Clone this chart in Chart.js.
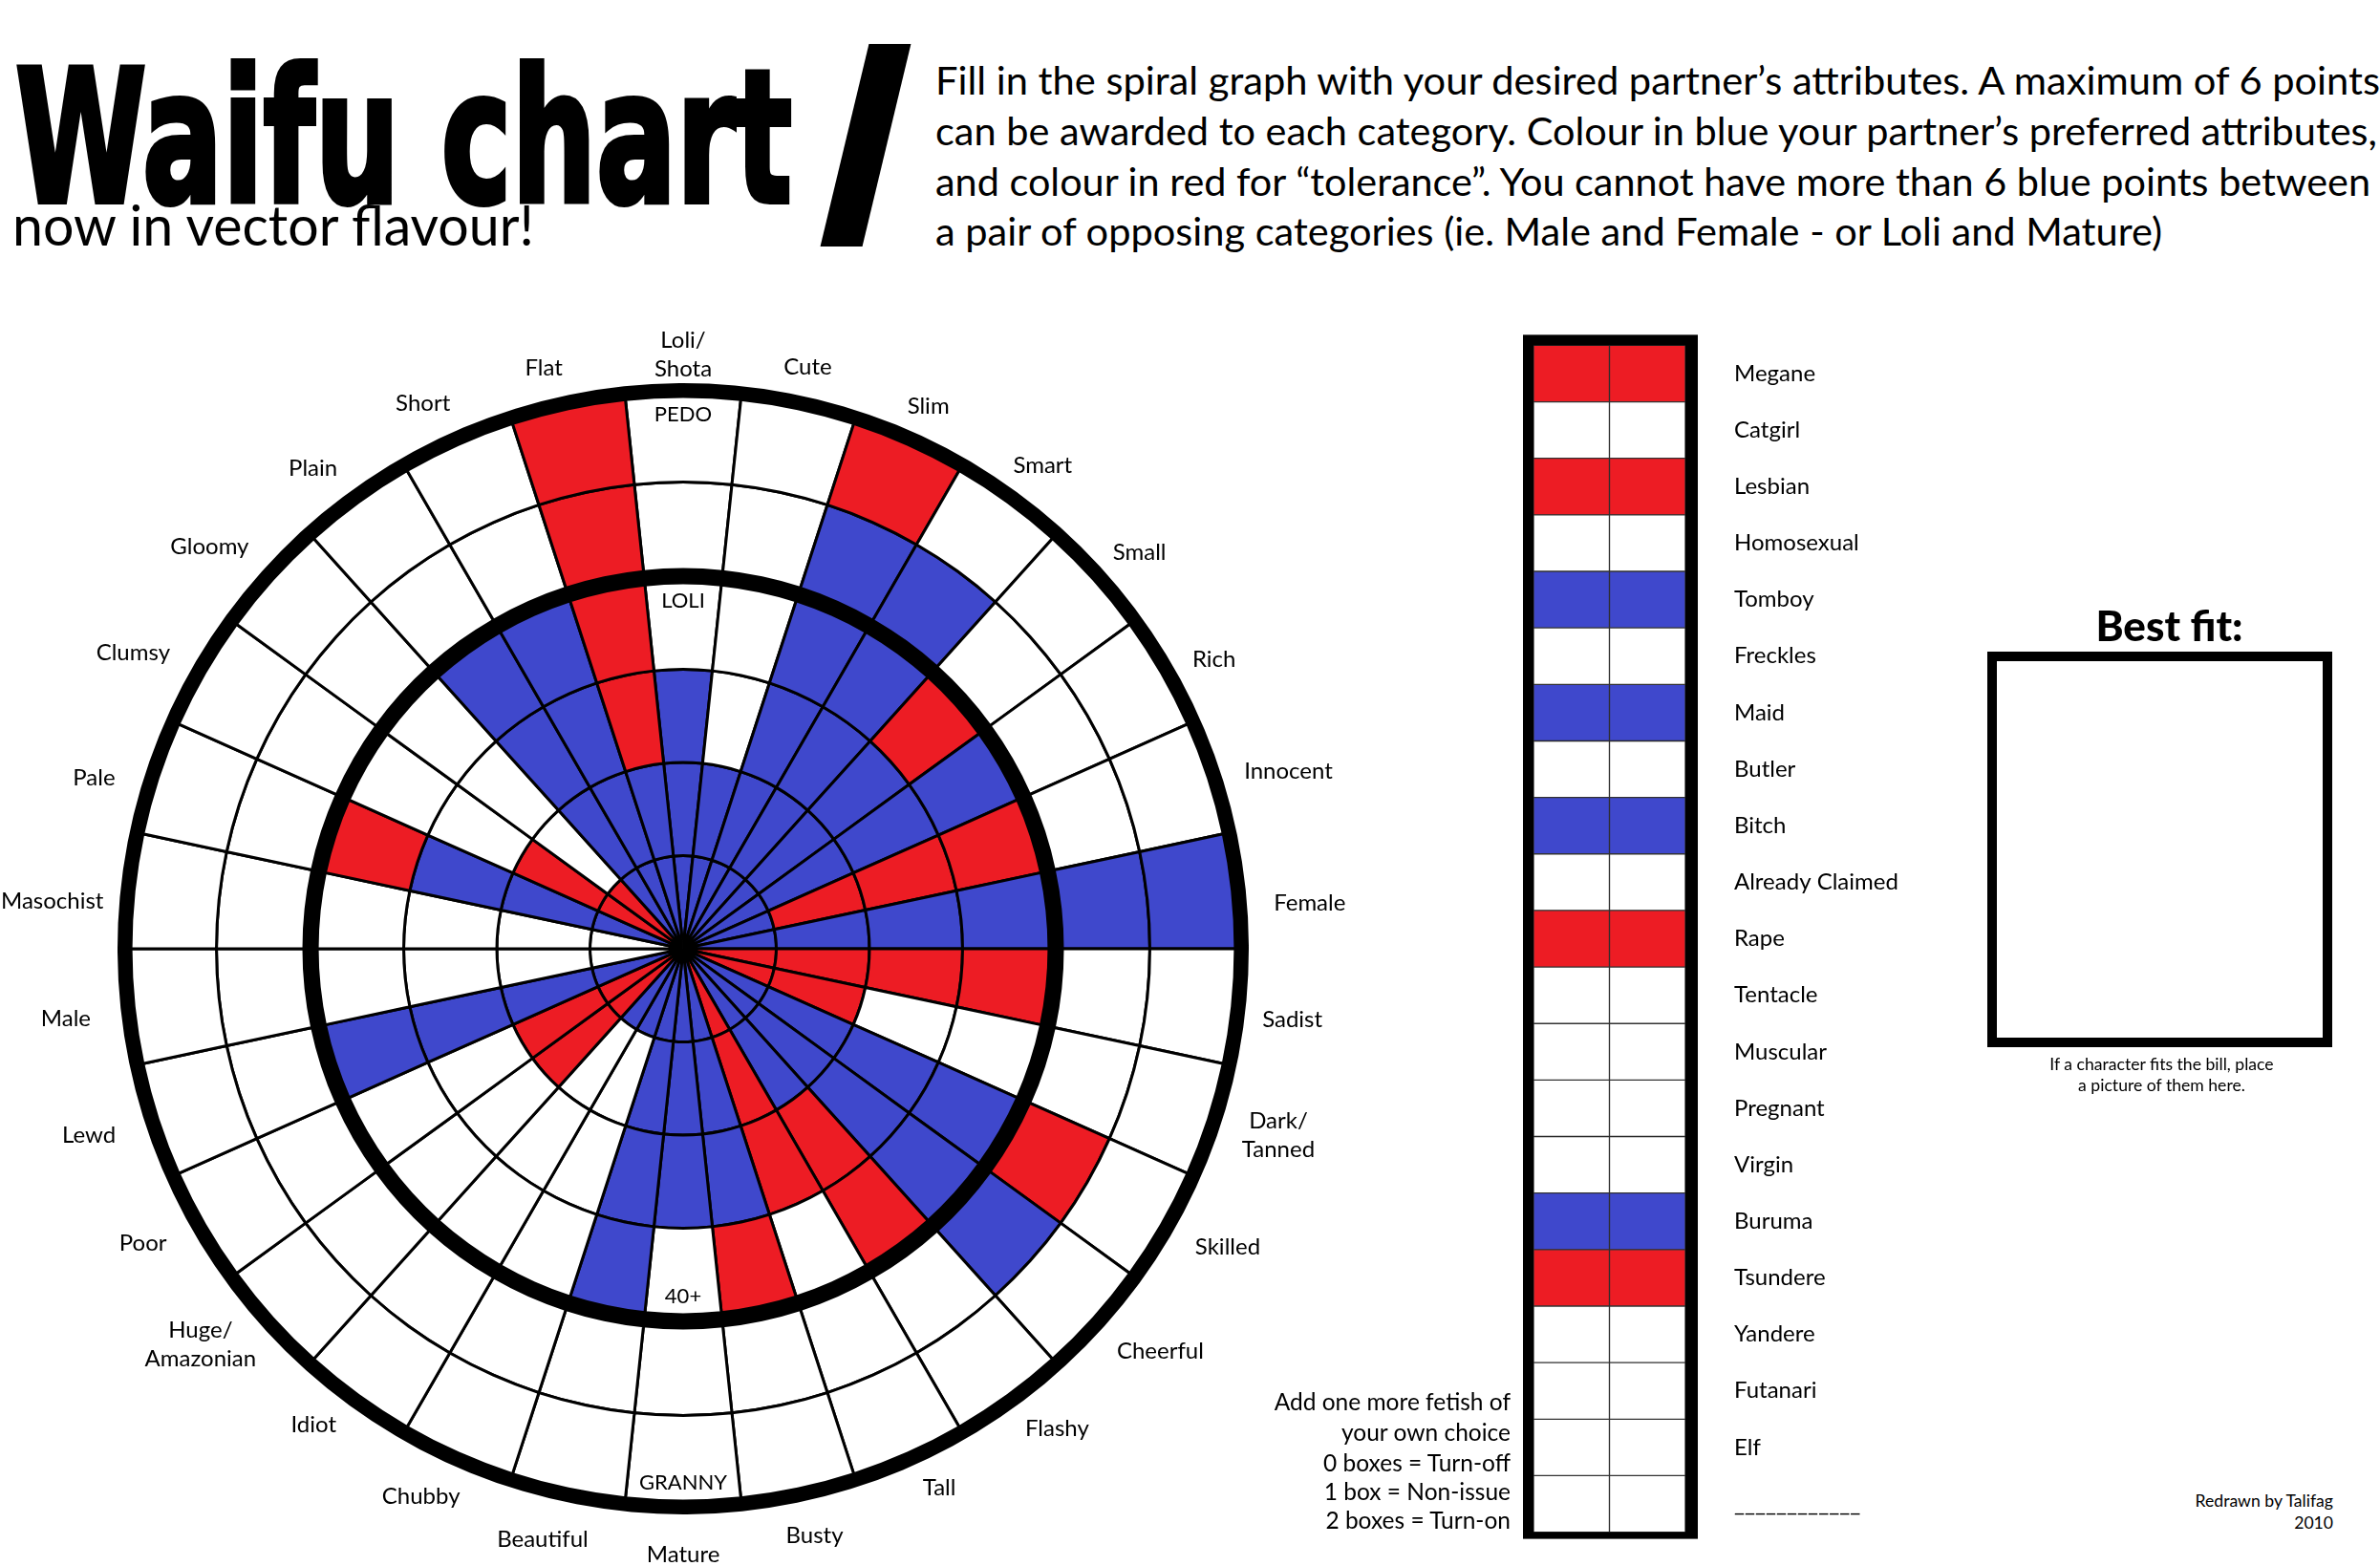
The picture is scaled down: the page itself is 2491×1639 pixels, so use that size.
<!DOCTYPE html>
<html>
<head>
<meta charset="utf-8">
<title>Waifu chart</title>
<script src="https://cdn.jsdelivr.net/npm/chart.js@4.4.1/dist/chart.umd.min.js"></script>
<style>
  html, body { margin: 0; padding: 0; background: #fff; }
  body { width: 2491px; height: 1639px; position: relative; overflow: hidden; font-family: Lato, sans-serif; color: #000; }
  .abs { position: absolute; white-space: nowrap; line-height: 1; transform-origin: 0 0; }
  #title { left: 16px; top: 49px; font-family: "DejaVu Sans", sans-serif; font-weight: bold; font-size: 192px; -webkit-text-stroke: 6px #000; }
  #slash { position: absolute; left: 884px; top: 46px; width: 44px; height: 212px; background: #000; transform: skewX(-13.5deg); }
  #sub { left: 13px; top: 206px; font-size: 58px; }
  .para { left: 979px; font-size: 40px; }
  .side { right: 910px; font-size: 24.5px; text-align: right; }
  #bestTitle { left: 2090px; width: 361px; top: 632px; font-size: 44px; font-weight: 900; text-align: center; }
  #bestBox { position: absolute; left: 2080px; top: 682px; width: 361px; height: 414px; border: 10px solid #000; box-sizing: border-box; }
  .caption { left: 2082px; width: 361px; font-size: 17.6px; text-align: center; }
  .credit { right: 49px; font-size: 17.6px; text-align: right; }
  canvas { position: absolute; }
</style>
</head>
<body>

<div id="title" class="abs" data-w="813">Waifu chart</div>
<div id="slash"></div>
<div id="sub" class="abs" data-w="546">now in vector flavour!</div>

<div class="abs para" style="top:64px" data-w="1512">Fill in the spiral graph with your desired partner’s attributes. A maximum of 6 points</div>
<div class="abs para" style="top:117px" data-w="1509">can be awarded to each category. Colour in blue your partner’s preferred attributes,</div>
<div class="abs para" style="top:170px" data-w="1502">and colour in red for “tolerance”. You cannot have more than 6 blue points between</div>
<div class="abs para" style="top:222px" data-w="1284">a pair of opposing categories (ie. Male and Female - or Loli and Mature)</div>

<canvas id="wheel" width="1440" height="1309" style="left:0; top:330px"></canvas>
<canvas id="kinks" width="600" height="1373" style="left:1590px; top:296px"></canvas>

<div class="abs side" style="top:1455px">Add one more fetish of</div>
<div class="abs side" style="top:1487px">your own choice</div>
<div class="abs side" style="top:1519px">0 boxes = Turn-off</div>
<div class="abs side" style="top:1549px">1 box = Non-issue</div>
<div class="abs side" style="top:1579px">2 boxes = Turn-on</div>

<div id="bestTitle" class="abs">Best fit:</div>
<div id="bestBox"></div>
<div class="abs caption" style="top:1105px">If a character fits the bill, place</div>
<div class="abs caption" style="top:1127px">a picture of them here.</div>

<div class="abs credit" style="top:1562px">Redrawn by Talifag</div>
<div class="abs credit" style="top:1585px">2010</div>

<script>
// ------------------------------
// Wheel data (clockwise from the top)
// ------------------------------

const categories = ['Loli/\nShota', 'Cute', 'Slim', 'Smart', 'Small', 'Rich', 'Innocent', 'Female',
    'Sadist', 'Dark/\nTanned', 'Skilled', 'Cheerful', 'Flashy', 'Tall', 'Busty', 'Mature',
    'Beautiful', 'Chubby', 'Idiot', 'Huge/\nAmazonian', 'Poor', 'Lewd', 'Male', 'Masochist',
    'Pale', 'Clumsy', 'Gloomy', 'Plain', 'Short', 'Flat'];

// one letter per category: b = preferred (blue), r = tolerance (red), w = empty
const ring1 = [...'bbbbbbbbrrbbbrbbbbbrrbwwbrrbbb'];   // innermost
const ring2 = [...'bbbbbbrbrrbbbrbbbwwrrbwwbrwbbb'];
const ring3 = [...'bwbbbbrbrwbbrrbbbwwwwbwwbwwbbr'];
const ring4 = [...'wwbbrbrbrwbbrwrwbwwwwbwwrwwbbr'];
const ring5 = [...'wwbbwwwbwwrbwwwwwwwwwwwwwwwwwr'];
const ring6 = [...'wwrwwwwbwwwwwwwwwwwwwwwwwwwwwr'];   // outermost

// words printed inside a few cells: [text, ring, category index]
const cellNotes = [['PEDO', 6, 0], ['LOLI', 4, 0], ['40+', 4, 15], ['GRANNY', 6, 15]];

// ------------------------------
// Fetish table data
// ------------------------------

const fetishes = ['Megane', 'Catgirl', 'Lesbian', 'Homosexual', 'Tomboy', 'Freckles', 'Maid',
    'Butler', 'Bitch', 'Already Claimed', 'Rape', 'Tentacle', 'Muscular', 'Pregnant', 'Virgin',
    'Buruma', 'Tsundere', 'Yandere', 'Futanari', 'Elf', '____________'];
const fetishBoxes = [...'rwrwbwbwbwrwwwwbrwwww'];


const paint = { b: '#3f48cc', r: '#ed1c24', w: '#ffffff' };

// fit some html text lines to the width they have in the picture
document.querySelectorAll('[data-w]').forEach(el => {
    const w = el.getBoundingClientRect().width;
    el.style.transform = 'scaleX(' + (el.dataset.w / w) + ')';
});


// ------------------------------
// Wheel (doughnut, one dataset per ring)
// ------------------------------

const band = (weight) => ({ data: [1], backgroundColor: '#000', borderWidth: 0, weight: weight });

const cells = (marks, weight) => ({
    data: marks.map(() => 1),
    backgroundColor: marks.map(m => paint[m]),
    borderColor: '#000',
    borderWidth: 3,
    weight: weight
});

// ring number -> dataset index
const ringIndex = { 6: 1, 5: 2, 4: 4, 3: 5, 2: 6, 1: 7 };

const wheelText = {
    id: 'wheelText',
    afterDraw(chart) {
        const ctx = chart.ctx;
        const rim = chart.getDatasetMeta(0).data[0];
        const arcs = chart.getDatasetMeta(1).data;
        ctx.save();
        ctx.fillStyle = '#000';
        ctx.textAlign = 'center';
        ctx.textBaseline = 'middle';
        ctx.font = '24px Lato';
        arcs.forEach((arc, i) => {
            const a = (arc.startAngle + arc.endAngle) / 2;
            const c = Math.cos(a), s = Math.sin(a);
            const lines = categories[i].split('\n');
            const w = Math.max(...lines.map(l => ctx.measureText(l).width));
            const r = rim.outerRadius + 30 + Math.abs(c) * w / 2;
            let x = arc.x + r * c;
            let y = arc.y + r * s;
            // hand-placed feel: labels hug the centre line a little more
            if (s < 0) {
                y += 21 * Math.abs(c);
            } else {
                y += 12 - 30 * Math.abs(Math.sin(2 * a)) - (lines.length - 1) * 30 * s * s;
            }
            if (c < 0) x -= 16 * Math.abs(s);
            else if (s > 0) x += 17 * Math.sin(2 * a) - 16 * Math.pow(c, 4);
            x = Math.max(x, w / 2 + 1);
            const top = y - (lines.length - 1) * 15;
            lines.forEach((l, k) => ctx.fillText(l, x, top + k * 30));
        });
        ctx.font = '22px Lato';
        cellNotes.forEach(([text, ring, i]) => {
            const arc = chart.getDatasetMeta(ringIndex[ring]).data[i];
            const a = (arc.startAngle + arc.endAngle) / 2;
            const r = arc.outerRadius - 19;
            ctx.fillText(text, arc.x + r * Math.cos(a), arc.y + r * Math.sin(a));
        });
        ctx.restore();
    }
};

new Chart(document.getElementById('wheel'), {
    type: 'doughnut',
    data: {
        labels: categories,
        datasets: [
            band(14),
            cells(ring6, 89),
            cells(ring5, 91),
            band(14),
            cells(ring4, 90),
            cells(ring3, 97),
            cells(ring2, 97),
            cells(ring1, 85),
            band(12)
        ]
    },
    options: {
        responsive: false,
        animation: false,
        events: [],
        rotation: -6,
        cutout: 0,
        hoverOffset: 0,
        layout: { padding: { left: 123, top: 71, right: 133, bottom: 54 } },
        plugins: { legend: { display: false }, tooltip: { enabled: false } }
    },
    plugins: [wheelText]
});


// ------------------------------
// Fetish table (stacked horizontal bars, two boxes per row)
// ------------------------------

const frame = {
    id: 'frame',
    beforeDatasetsDraw(chart) {
        const a = chart.chartArea;
        const ctx = chart.ctx;
        ctx.save();
        ctx.fillStyle = '#000';
        ctx.fillRect(a.left - 11, a.top - 11, a.right - a.left + 24, a.bottom - a.top + 18);
        ctx.restore();
    }
};

const boxSet = () => ({
    data: fetishes.map(() => 1),
    backgroundColor: fetishBoxes.map(m => paint[m]),
    borderColor: '#333',
    borderWidth: 1,
    borderSkipped: false,
    categoryPercentage: 1,
    barPercentage: 1
});

new Chart(document.getElementById('kinks'), {
    type: 'bar',
    data: {
        labels: fetishes,
        datasets: [boxSet(), boxSet()]
    },
    options: {
        indexAxis: 'y',
        responsive: false,
        animation: false,
        events: [],
        layout: { padding: { left: 15, top: 65, bottom: 65, right: 0 } },
        plugins: { legend: { display: false }, tooltip: { enabled: false } },
        scales: {
            x: { stacked: true, min: 0, max: 2, display: false },
            y: {
                stacked: true,
                position: 'right',
                grid: { display: false, drawTicks: false },
                border: { display: false },
                ticks: { autoSkip: false, padding: 51, color: '#000', font: { family: 'Lato', size: 24 } },
                afterFit(scale) { scale.width = 426; }
            }
        }
    },
    plugins: [frame]
});
</script>
</body>
</html>
